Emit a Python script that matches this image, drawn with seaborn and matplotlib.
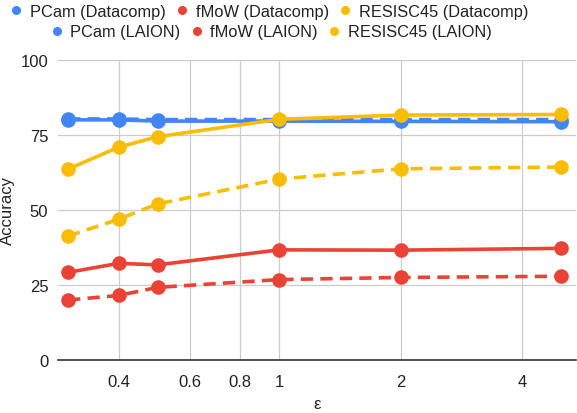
import matplotlib
matplotlib.use("Agg")
import matplotlib.pyplot as plt
from matplotlib.lines import Line2D
import seaborn as sns
import pandas as pd

eps = [0.3, 0.4, 0.5, 1, 2, 5]
pcam_datacomp = [80.0, 80.0, 79.6, 79.6, 79.5, 79.4]
fmow_datacomp = [29.2, 32.2, 31.7, 36.7, 36.6, 37.2]
resisc_datacomp = [63.6, 70.9, 74.4, 80.2, 81.6, 81.8]
pcam_laion = [80.3, 80.3, 80.1, 80.1, 80.1, 80.1]
fmow_laion = [20.0, 21.5, 24.2, 26.8, 27.5, 27.9]
resisc_laion = [41.3, 46.9, 52.0, 60.3, 63.7, 64.3]

datasets = ["PCam", "fMoW", "RESISC45"]
sources = ["Datacomp", "LAION"]
x_ticks = [0.4, 0.6, 0.8, 1, 2, 4]
x_tick_labels = ["0.4", "0.6", "0.8", "1", "2", "4"]
y_ticks = [0, 25, 50, 75, 100]

series = {
    ("PCam", "LAION"): pcam_laion,
    ("fMoW", "LAION"): fmow_laion,
    ("RESISC45", "LAION"): resisc_laion,
    ("PCam", "Datacomp"): pcam_datacomp,
    ("fMoW", "Datacomp"): fmow_datacomp,
    ("RESISC45", "Datacomp"): resisc_datacomp,
}
rows = []
for (d, s), vals in series.items():
    for e, v in zip(eps, vals):
        rows.append({"eps": e, "acc": v, "dataset": d, "source": s})
df = pd.DataFrame(rows)

colors = {"PCam": "#4285F4", "fMoW": "#EA4335", "RESISC45": "#FBBC04"}

sns.set_theme(style="white")
plt.rcParams["font.family"] = ["Liberation Sans", "DejaVu Sans"]

fig = plt.figure(figsize=(5.77, 4.14), dpi=100)
ax = fig.add_axes([0.1005, 0.128, 0.8975, 0.725])

for (d, s) in series.keys():
    sub = df[(df.dataset == d) & (df.source == s)]
    sns.lineplot(data=sub, x="eps", y="acc", ax=ax, color=colors[d],
                 lw=2.6, marker="o", markersize=10.5, markeredgewidth=0,
                 linestyle="--" if s == "LAION" else "-",
                 legend=False, zorder=3)

for line in ax.get_lines():
    if line.get_linestyle() == "--":
        line.set_dashes((3.4, 2.0))

ax.set_xscale("log")
ax.set_xlim(0.2832, 5.43)
ax.set_ylim(0, 100)
ax.set_xticks(x_ticks)
ax.set_xticklabels(x_tick_labels)
ax.minorticks_off()
ax.set_yticks(y_ticks)
ax.grid(True, color="#cccccc", lw=0.9)
ax.set_axisbelow(True)
for sp in ["left", "right", "top"]:
    ax.spines[sp].set_visible(False)
ax.spines["bottom"].set_color("#333333")
ax.spines["bottom"].set_linewidth(1.2)
ax.spines["bottom"].set_zorder(2)
ax.tick_params(axis="both", length=0, labelsize=12, colors="#222222")
ax.tick_params(axis="x", pad=10)
ax.tick_params(axis="y", pad=7)
ax.set_xlabel("ε", fontsize=12, color="#222222", labelpad=5)
ax.set_ylabel("Accuracy", fontsize=12, color="#222222", labelpad=4)

def handles(src):
    return [Line2D([], [], color=colors[d], marker="o", linestyle="none",
                   markersize=6.5, markeredgewidth=0) for d in datasets], \
           [f"{d} ({src})" for d in datasets]

h1, l1 = handles("Datacomp")
h2, l2 = handles("LAION")
kw = dict(ncol=3, loc="center", frameon=False, fontsize=11.75, handletextpad=0.34,
          columnspacing=0.5, handlelength=1.0, borderpad=0)
leg1 = fig.legend(h1, l1, bbox_to_anchor=(268 / 577, 1 - 12 / 414), **kw)
leg2 = fig.legend(h2, l2, bbox_to_anchor=(270 / 577, 1 - 33 / 414), **kw)
for leg in (leg1, leg2):
    for t in leg.get_texts():
        t.set_color("#222222")

fig.savefig("out.png", dpi=100)
